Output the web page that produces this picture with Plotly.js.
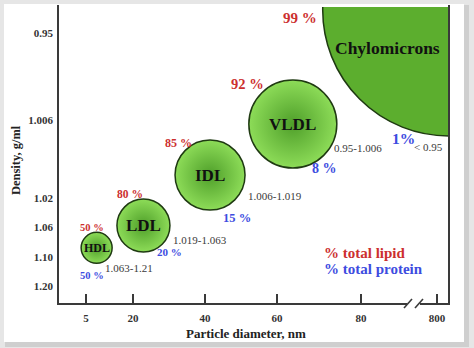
<!DOCTYPE html>
<html>
<head>
<meta charset="utf-8">
<script src="https://cdn.plot.ly/plotly-3.0.1.min.js"></script>
<style>html,body{margin:0;padding:0;background:#fff;}#chart{width:474px;height:348px;}</style>
</head>
<body>
<div id="chart"></div>
<script>
// ---- data ----
const particles = ['HDL', 'LDL', 'IDL', 'VLDL', 'Chylomicrons'];
const diameterPos = [9.9, 22.9, 41.4, 64.4, 107.7];   // x-axis units
const densityPos = [18.9, 26.4, 43.4, 60.6, 99.0];    // y-axis units
const bubbleDiameter = [31, 53, 70, 88, 252];
const lipidPct = [50, 80, 85, 92, 99];
const proteinPct = [50, 20, 15, 8, 1];
const densityRange = ['1.063-1.21', '1.019-1.063', '1.006-1.019', '0.95-1.006', '< 0.95'];
const xTickVals = [6.94, 20, 40, 60, 83.33, 104.44];
const xTickText = ['5', '20', '40', '60', '80', '800'];
const yTickVals = [91.2, 61.95, 35.7, 25.9, 15.8, 6.06];
const yTickText = ['0.95', '1.006', '1.02', '1.06', '1.10', '1.20'];

// ---- label placement (pixel offsets from bubble centre) & styles ----
const lipidOff = [[-4.5, 20], [-13.5, 31.5], [-32, 32], [-45, 40], [-149, -8]];
const proteinOff = [[-4.5, -28], [26.5, -26.5], [27, -43], [32, -44], [-45, -129]];
const rangeOff = [[32.5, -20], [56.5, -14.5], [65, -21], [65, -24], [-20, -137]];
const nameOff = [[0, 0], [0, 0], [0, 0], [0, 0], [-61, -38]];
const lipidSize = [10.5, 11.5, 12, 14.5, 15];
const proteinSize = [10.5, 11, 12.5, 14, 15.5];
const nameSize = [12, 17, 17, 17, 17.5];

const SERIF = '"Liberation Serif", "Times New Roman", serif';
const RED = '#cc2f2f', BLUE = '#3d4ce0';

const trace = {
  type: 'scatter', mode: 'markers',
  x: diameterPos, y: densityPos, text: particles, hoverinfo: 'text',
  cliponaxis: true,
  marker: {
    size: bubbleDiameter,
    color: ['#8ddc58', '#8ddc58', '#8ddc58', '#8ddc58', '#5cae2e'],
    gradient: {type: ['radial', 'radial', 'radial', 'radial', 'none'], color: '#4f9f2a'},
    line: {color: '#1f3a12', width: 1.5},
    opacity: 1
  },
  showlegend: false
};

const ann = [];
particles.forEach((p, i) => {
  const base = {x: diameterPos[i], y: densityPos[i], xref: 'x', yref: 'y', showarrow: false};
  ann.push(Object.assign({}, base, {text: '<b>' + p + '</b>', xshift: nameOff[i][0], yshift: nameOff[i][1],
    font: {family: SERIF, size: nameSize[i], color: '#111'}}));
  ann.push(Object.assign({}, base, {text: '<b>' + lipidPct[i] + ' %</b>', xshift: lipidOff[i][0], yshift: lipidOff[i][1],
    font: {family: SERIF, size: lipidSize[i], color: RED}}));
  const pt = (i === particles.length - 1) ? proteinPct[i] + '%' : proteinPct[i] + ' %';
  ann.push(Object.assign({}, base, {text: '<b>' + pt + '</b>', xshift: proteinOff[i][0], yshift: proteinOff[i][1],
    font: {family: SERIF, size: proteinSize[i], color: BLUE}}));
  ann.push(Object.assign({}, base, {text: densityRange[i], xshift: rangeOff[i][0], yshift: rangeOff[i][1],
    font: {family: SERIF, size: 11, color: '#3a3a3a'}}));
});
// legend-like key
ann.push({xref: 'paper', yref: 'paper', x: 0.675, y: 0.172, xanchor: 'left', yanchor: 'middle', showarrow: false,
  text: '<b>% total lipid</b>', font: {family: SERIF, size: 15, color: RED}});
ann.push({xref: 'paper', yref: 'paper', x: 0.675, y: 0.118, xanchor: 'left', yanchor: 'middle', showarrow: false,
  text: '<b>% total protein</b>', font: {family: SERIF, size: 15, color: BLUE}});
// axis titles
ann.push({xref: 'paper', yref: 'paper', x: 0.481, y: -0.101, xanchor: 'center', yanchor: 'middle', showarrow: false,
  text: '<b>Particle diameter, nm</b>', font: {family: SERIF, size: 13, color: '#222'}});
ann.push({xref: 'paper', yref: 'paper', x: -0.107, y: 0.485, xanchor: 'center', yanchor: 'middle', showarrow: false,
  textangle: -90, text: '<b>Density, g/ml</b>', font: {family: SERIF, size: 12.5, color: '#222'}});

// helpers: px -> paper
const L = 58, T = 7, W = 391, H = 297;
const px = v => (v - L) / W, py = v => (T + H - v) / H;
const AX = '#3a3a3a';
const shapes = [
  {type: 'rect', xref: 'paper', yref: 'paper', layer: 'below', x0: px(5), x1: px(469), y0: py(347), y1: py(5), fillcolor: '#cfcfcf', line: {width: 0}},
  {type: 'rect', xref: 'paper', yref: 'paper', layer: 'below', x0: px(4), x1: px(464), y0: py(342), y1: py(4), fillcolor: '#ffffff', line: {width: 0}},
  // left axis extension and right frame line
  {type: 'line', xref: 'paper', yref: 'paper', x0: px(58), x1: px(58), y0: py(304), y1: py(5), line: {color: AX, width: 2}},
  {type: 'line', xref: 'paper', yref: 'paper', x0: px(449), x1: px(449), y0: py(304), y1: py(5), line: {color: AX, width: 2}},
  // bottom axis with break
  {type: 'line', xref: 'paper', yref: 'paper', x0: px(57), x1: px(407), y0: py(304), y1: py(304), line: {color: AX, width: 2}},
  {type: 'line', xref: 'paper', yref: 'paper', x0: px(420), x1: px(450), y0: py(304), y1: py(304), line: {color: AX, width: 2}},
  {type: 'line', xref: 'paper', yref: 'paper', x0: px(404), x1: px(412), y0: py(308), y1: py(299), line: {color: AX, width: 1.6}},
  {type: 'line', xref: 'paper', yref: 'paper', x0: px(415), x1: px(423), y0: py(308), y1: py(299), line: {color: AX, width: 1.6}}
];

const layout = {
  width: 474, height: 348,
  margin: {l: 58, r: 25, t: 7, b: 44, pad: 0},
  paper_bgcolor: '#e6e6e6', plot_bgcolor: 'rgba(0,0,0,0)',
  showlegend: false,
  xaxis: {range: [-0.833, 107.78], showgrid: false, zeroline: false, showline: false,
    tickmode: 'array', tickvals: xTickVals, ticktext: xTickText,
    ticks: 'inside', ticklen: 10, tickwidth: 1.6, tickcolor: AX, ticklabelstandoff: 6,
    tickfont: {family: SERIF, size: 11, color: '#333', weight: 'bold'}, fixedrange: true},
  yaxis: {range: [0, 100], showgrid: false, zeroline: false, showline: false,
    tickmode: 'array', tickvals: yTickVals, ticktext: yTickText, ticks: '', ticklabelstandoff: 4,
    tickfont: {family: SERIF, size: 11, color: '#333', weight: 'bold'}, fixedrange: true},
  annotations: ann,
  shapes: shapes
};

Plotly.newPlot('chart', [trace], layout, {displayModeBar: false, staticPlot: true});
</script>
</body>
</html>
